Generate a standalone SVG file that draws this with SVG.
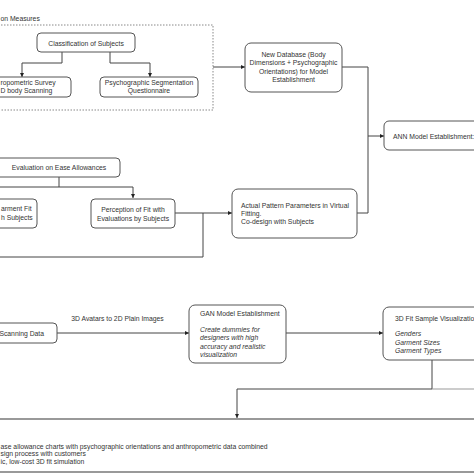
<svg xmlns="http://www.w3.org/2000/svg" width="474" height="474" viewBox="0 0 474 474">
<defs>
<marker id="arr" viewBox="0 0 6 6" refX="6" refY="3" markerWidth="4" markerHeight="4" orient="auto" markerUnits="userSpaceOnUse">
<path d="M0,0 L6,3 L0,6 Z" fill="#222"/>
</marker>
</defs>
<style>
.box{fill:#fff;stroke:#555;stroke-width:1}
.t{font-family:"Liberation Sans",Arial,sans-serif;font-size:6.8px;fill:#333}
.c{text-anchor:middle}
.i{font-style:italic}
.ln{fill:none;stroke:#444;stroke-width:1}
</style>
<rect width="474" height="474" fill="#fff"/>

<g id="measures">
<rect x="-20" y="25" width="233" height="85" fill="none" stroke="#888" stroke-width="1" stroke-dasharray="1.5 1.5"/>
<text class="t" x="0.5" y="21">on Measures</text>
</g>

<g id="connectors">
<polyline class="ln" points="62,52 62,63 22,63 22,77" marker-end="url(#arr)"/>
<polyline class="ln" points="110,52 110,63 150,63 150,77" marker-end="url(#arr)"/>
<line class="ln" x1="213" y1="67" x2="245" y2="67" marker-end="url(#arr)"/>
<polyline class="ln" points="342,67 368,67 368,213 357,213"/>
<line class="ln" x1="368" y1="136" x2="384" y2="136" marker-end="url(#arr)"/>
<polyline class="ln" points="59,177 59,187"/>
<polyline class="ln" points="0,187 133,187 133,198" marker-end="url(#arr)"/>
<line class="ln" x1="175" y1="213" x2="232" y2="213" marker-end="url(#arr)"/>
<polyline class="ln" points="203,213 203,257 0,257"/>
<line class="ln" x1="57" y1="333" x2="189" y2="333" marker-end="url(#arr)"/>
<line class="ln" x1="286" y1="333" x2="383" y2="333" marker-end="url(#arr)"/>
<polyline class="ln" points="432,360 432,389 237,389 237,418" marker-end="url(#arr)"/>
<line x1="432" y1="389" x2="474" y2="389" stroke="#999" stroke-width="1"/>
<text class="t c" x="117.5" y="320.5">3D Avatars to 2D Plain Images</text>
</g>

<g id="classification">
<rect class="box" x="37" y="33" width="98" height="19" rx="4"/>
<text class="t c" x="86" y="45.5">Classification of Subjects</text>
</g>

<g id="anthropometric">
<rect class="box" x="-27" y="77" width="98" height="20" rx="4"/>
<text class="t" x="0.5" y="84.5">ropometric Survey</text>
<text class="t" x="0.5" y="92.5">D body Scanning</text>
</g>

<g id="psychographic">
<rect class="box" x="100" y="77" width="98" height="20" rx="4"/>
<text class="t c" x="149" y="84.5">Psychographic Segmentation</text>
<text class="t c" x="149" y="92.5">Questionnaire</text>
</g>

<g id="newdb">
<rect class="box" x="245" y="43" width="97" height="49" rx="6"/>
<text class="t c" x="293.5" y="56.5">New Database (Body</text>
<text class="t c" x="293.5" y="65">Dimensions + Psychographic</text>
<text class="t c" x="293.5" y="73.5">Orientations) for Model</text>
<text class="t c" x="293.5" y="82">Establishment</text>
</g>

<g id="ann">
<rect class="box" x="384" y="121" width="110" height="29" rx="5"/>
<text class="t" x="393" y="138.5">ANN Model Establishment:</text>
</g>

<g id="evaluation">
<rect class="box" x="-20" y="158" width="140" height="19" rx="4"/>
<text class="t c" x="59" y="169.5">Evaluation on Ease Allowances</text>
</g>

<g id="garmentfit">
<rect class="box" x="-40" y="199" width="77" height="29" rx="4"/>
<text class="t" x="1" y="211">arment Fit</text>
<text class="t" x="1" y="219.5">h Subjects</text>
</g>

<g id="perception">
<rect class="box" x="91" y="199" width="84" height="29" rx="4"/>
<text class="t c" x="133" y="212">Perception of Fit with</text>
<text class="t c" x="133" y="220.5">Evaluations by Subjects</text>
</g>

<g id="actual">
<rect class="box" x="232" y="189" width="125" height="49" rx="6"/>
<text class="t" x="241" y="207.5">Actual Pattern Parameters in Virtual</text>
<text class="t" x="241" y="215.5">Fitting.</text>
<text class="t" x="241" y="223.5">Co-design with Subjects</text>
</g>

<g id="scanning">
<rect class="box" x="-40" y="323" width="97" height="20" rx="4"/>
<text class="t" x="44" y="335.5" text-anchor="end">Scanning Data</text>
</g>

<g id="gan">
<rect class="box" x="189" y="305" width="97" height="58" rx="6"/>
<text class="t" x="200" y="315.5">GAN Model Establishment</text>
<text class="t i" x="200" y="331.5">Create dummies for</text>
<text class="t i" x="200" y="340">designers with high</text>
<text class="t i" x="200" y="348.5">accuracy and realistic</text>
<text class="t i" x="200" y="357">visualization</text>
</g>

<g id="fit3d">
<rect class="box" x="383" y="307" width="110" height="53" rx="6"/>
<text class="t" x="395" y="320.5">3D Fit Sample Visualizatio</text>
<text class="t i" x="395" y="336">Genders</text>
<text class="t i" x="395" y="344.5">Garment Sizes</text>
<text class="t i" x="395" y="353">Garment Types</text>
</g>

<g id="results">
<rect x="-10" y="419" width="500" height="53" fill="#fff" stroke="#999" stroke-width="2"/>
<text class="t" x="0.5" y="448.5">ase allowance charts with psychographic orientations and anthropometric data combined</text>
<text class="t" x="0.5" y="456">sign process with customers</text>
<text class="t" x="0.5" y="463.5">ic, low-cost 3D fit simulation</text>
</g>
</svg>
